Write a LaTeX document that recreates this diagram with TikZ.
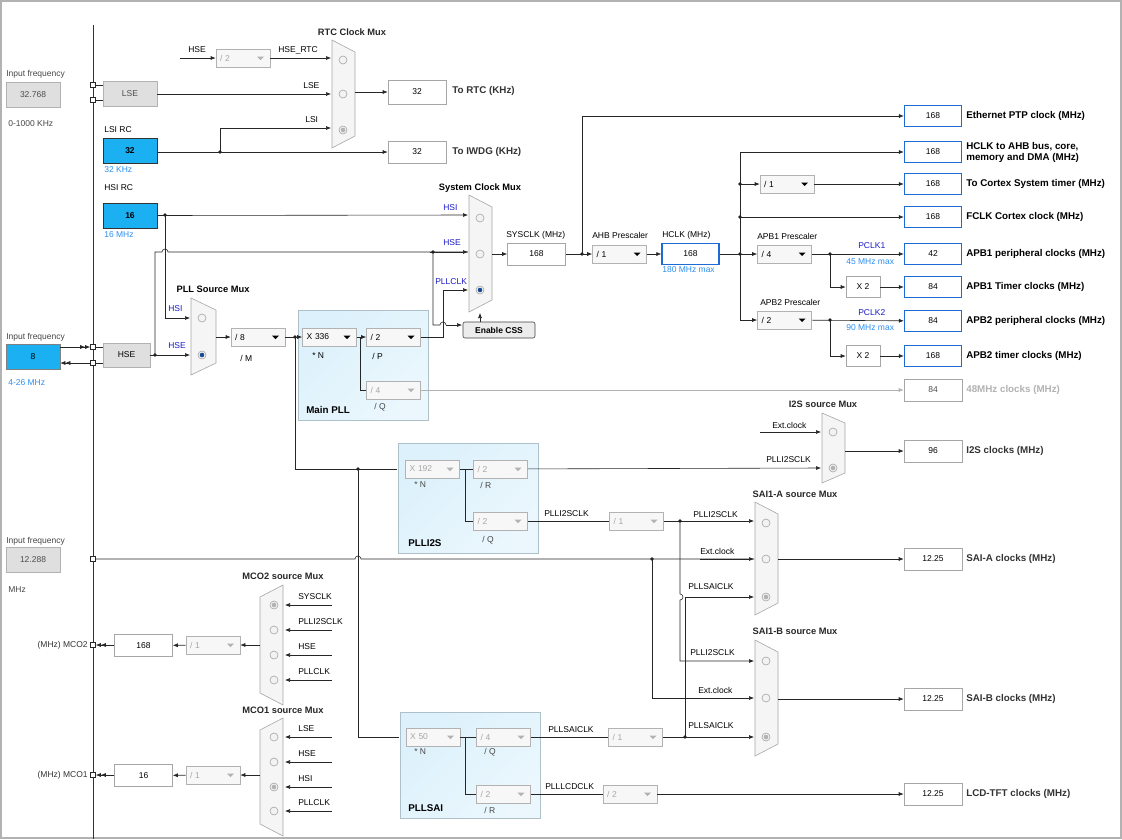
\documentclass[tikz,border=0pt]{standalone}
\usepackage{fontspec}
\setmainfont{Liberation Sans}
\usetikzlibrary{arrows.meta,calc}
\definecolor{selb}{HTML}{1AB0F2}
\definecolor{ob}{HTML}{1F6BD6}
\definecolor{bt}{HTML}{2B8EF0}
\definecolor{dk}{HTML}{1A1AC8}
\definecolor{pll}{HTML}{CDEBFA}
\newcommand\muxs[5]{\filldraw[draw=gray!70, fill=gray!8] (#1,#3) -- (#2,#3+#5) -- (#2,#4-#5) -- (#1,#4) -- cycle;}
\newcommand\rad[2]{\draw[gray!70, fill=gray!10] (#1,#2) circle (4pt);}
\newcommand\rsel[2]{\draw[gray!70, fill=gray!10] (#1,#2) circle (4pt);\fill[ob!70!black] (#1,#2) circle (2.3pt);}
\newcommand\rgsel[2]{\draw[gray!70, fill=gray!10] (#1,#2) circle (4pt);\fill[gray!60] (#1,#2) circle (2.3pt);}
\newcommand\dotp[2]{\fill[gray!25!black] (#1,#2) circle (1.8pt);}
\begin{document}
\begin{tikzpicture}[x=1pt,y=-1pt, font=\fontsize{8.5}{10}\selectfont,
 every path/.append style={line width=0.6pt},
 ln/.style={draw=gray!30!black},
 arr/.style={ln,-{Latex[length=5pt,width=4pt]}},
 darr/.style={ln,-{Latex[length=5pt,width=4pt]Latex[length=5pt,width=4pt]}},
 box/.style={draw=gray!70, fill=white, minimum width=58pt, minimum height=22pt, inner sep=0pt},
 obox/.style={draw=ob, line width=1.3pt, fill=white, minimum width=57pt, minimum height=21pt, inner sep=0pt},
 gbox/.style={draw=gray!60, fill=gray!25, text=gray!60!black, minimum width=54pt, minimum height=25pt, inner sep=0pt},
 sbox/.style={draw=gray!40!black, fill=selb, minimum width=54pt, minimum height=25pt, inner sep=0pt, font=\fontsize{8.5}{10}\selectfont\bfseries},
 dd/.style={draw=gray!60, fill=gray!6, minimum height=18pt, text width=46pt, inner xsep=4pt, inner ysep=0pt, align=left,
   path picture={\fill[black] ([xshift=-13pt,yshift=1.5pt]path picture bounding box.east) -- ++(7pt,0pt) -- ++(-3.5pt,-3.5pt) -- cycle;}},
 ddg/.style={dd, text=gray!70, path picture={\fill[gray!60] ([xshift=-13pt,yshift=1.5pt]path picture bounding box.east) -- ++(7pt,0pt) -- ++(-3.5pt,-3.5pt) -- cycle;}},
 lab/.style={anchor=west, inner sep=0pt},
 blab/.style={lab, font=\fontsize{9.8}{11}\selectfont\bfseries},
 glab/.style={lab, text=gray!55!black},
 blu/.style={lab, text=bt},
 dlu/.style={lab, text=dk},
 ttl/.style={font=\fontsize{9.3}{10.5}\selectfont\bfseries, text=gray!30!black},
 pllbox/.style={draw=pll!60!gray, top color=pll!70!white, bottom color=pll!40!white, shading angle=45},
 sq/.style={draw=gray!30!black, fill=white, minimum size=5pt, inner sep=0pt}]
\useasboundingbox (0,0) rectangle (1122,839);
\draw[gray!60, line width=1.5pt] (1,1) rectangle (1121,838);
\draw[gray!40!black] (93,25) -- (93,839);

% ---------------- left inputs
\node[glab] at (6,74) {Input frequency};
\node[gbox] (lsein) at (33,94.5) {32.768};
\node[glab] at (8,124) {0-1000 KHz};
\node[gbox] (lse) at (130,94) {LSE};
\node[sq] (sq1) at (93,85) {}; \node[sq] (sq2) at (93,100) {};
\draw[ln] (sq1) -- (sq1 -| lse.west); \draw[ln] (sq2) -- (sq2 -| lse.west);
\node[lab] at (104,130) {LSI RC};
\node[sbox] (lsi) at (130,150.5) {32};
\node[blu] at (104,170) {32 KHz};
\node[lab] at (104,188) {HSI RC};
\node[sbox] (hsi) at (130,215.5) {16};
\node[blu] at (104,235) {16 MHz};
\node[glab] at (6,337) {Input frequency};
\node[sbox, draw=gray, font=\fontsize{8.5}{10}\selectfont] (hsein) at (33,356.5) {8};
\node[blu] at (8,383) {4-26 MHz};
\node[gbox, text=black, minimum width=47pt, minimum height=24pt] (hse) at (126.5,355) {HSE};
\node[sq] (sq3) at (93,347) {}; \node[sq] (sq4) at (93,363) {};
\draw[darr] (hsein.east |- sq3) -- (sq3);
\draw[darr] (sq4) -- (hsein.east |- sq4);
\draw[ln] (sq3) -- (sq3 -| hse.west); \draw[ln] (sq4) -- (sq4 -| hse.west);
\node[glab] at (6,541) {Input frequency};
\node[gbox] (saiin) at (33,560) {12.288};
\node[glab] at (8,590) {MHz};

% ---------------- RTC mux
\node[ttl] at (352,32) {RTC Clock Mux};
\muxs{332}{355}{40}{148}{12}
\rad{343}{60}\rad{343}{94}\rgsel{343}{130}
\node[lab] at (188,50) {HSE};
\node[ddg] (rtcdiv) at (243,58) {/ 2};
\coordinate (hsertc) at (180,58);
\draw[arr] (hsertc) -- (rtcdiv);
\node[lab] at (278,50) {HSE\_RTC};
\draw[arr] (rtcdiv) -- (331,58);
\node[lab] at (303,86) {LSE};
\draw[arr] (lse) -- (331,94);
\node[lab] at (305,120) {LSI};
\dotp{220}{152}
\draw[arr] (220,152) -- (220,128) -- (331,128);
\node[box, minimum height=24pt] (rtc) at (417,92) {32};
\draw[arr] (355,92) -- (rtc);
\node[blab, gray!40!black] at (452,91) {To RTC (KHz)};
\node[box] (iwdg) at (417,152) {32};
\draw[arr] (lsi.east |- iwdg) -- (iwdg);
\node[blab, gray!40!black] at (452,152) {To IWDG (KHz)};

% ---------------- system clock mux
\node[ttl, text=black] at (480,188) {System Clock Mux};
\muxs{469}{492}{195}{312}{12}
\rad{480}{218}\rad{480}{254}\rsel{480}{290}
\dotp{165}{215}
\draw[arr] (hsi.east) -- (468,215);
\node[dlu] at (443,208) {HSI};
\dotp{155}{355}
\draw[ln] (155,355) -- (155,252) -- (162,252) arc[start angle=180,end angle=0,radius=3pt] -- (468,252);
\draw[arr] (430,252) -- (468,252);
\node[dlu] at (443,243) {HSE};
\dotp{433}{252}
\draw[arr] (165,215) -- (165,318) -- (190,318);
\node[dlu] at (168,309) {HSI};
\draw[arr] (hse.east) -- (190,355);
\node[dlu] at (168,346) {HSE};
% PLL source mux
\node[ttl, text=black] at (213,289) {PLL Source Mux};
\muxs{191}{216}{298}{375}{12}
\rad{202}{318}\rsel{202}{355}
\node[dd] (divm) at (258,337) {/ 8};
\draw[arr] (216,337) -- (divm);
\node[lab] at (240,358) {/ M};
% Main PLL
\filldraw[pllbox] (298,310) rectangle (428,420);
\node[blab] at (306,410) {Main PLL};
\node[dd] (pn) at (329.5,337) {X 336};
\node[lab] at (312,356) {* N};
\node[dd] (pp) at (393.5,337) {/ 2};
\node[lab] at (372,356) {/ P};
\node[ddg] (pq) at (393.5,390) {/ 4};
\node[glab] at (374,407) {/ Q};
\dotp{295}{337}
\draw[arr] (divm) -- (pn);
\draw[arr] (pn) -- (pp);
\draw[ln] (360,337) -- (360,390) -- (pq.west);
% PLLCLK & CSS
\node[draw=gray!50!black, fill=gray!15, rounded corners=2pt, minimum width=72pt, minimum height=16pt, inner sep=0pt, font=\fontsize{8.5}{10}\selectfont\bfseries] (css) at (499,330) {Enable CSS};
\draw[arr] (pp) -- (443,337) -- (443,290) -- (468,290);
\node[dlu] at (435,282) {PLLCLK};
\draw[ln] (433,252) -- (433,325) -- (440,325) arc[start angle=180,end angle=0,radius=3pt];
\draw[arr] (446,325) -- (462,325);
\draw[arr] (480,322) -- (480,313);
% sysclk
\node[lab] at (506,235) {SYSCLK (MHz)};
\node[box] (sys) at (536.5,254) {168};
\draw[arr] (492,254) -- (sys);
\node[lab] at (592,235) {AHB Prescaler};
\node[dd] (ahb) at (619.5,254) {/ 1};
\dotp{582}{254}
\draw[arr] (sys) -- (ahb);
\node[lab] at (662,235) {HCLK (MHz)};
\node[obox] (hclk) at (690.5,254) {168};
\node[blu] at (662,270) {180 MHz max};
\draw[arr] (ahb) -- (hclk);
% outputs
\foreach \n/\y/\v in {o1/116/168,o2/152/168,o3/184/168,o4/217/168,o5/254/42,o6/287/84,o7/321/84,o8/356/168}
  \node[obox] (\n) at (933,\y) {\v};
\node[blab] at (966,116) {Ethernet PTP clock (MHz)};
\node[blab, align=left] at (966,152) {HCLK to AHB bus, core,\\memory and DMA (MHz)};
\node[blab] at (966,184) {To Cortex System timer (MHz)};
\node[blab] at (966,217) {FCLK Cortex clock (MHz)};
\node[blab] at (966,254) {APB1 peripheral clocks (MHz)};
\node[blab] at (966,287) {APB1 Timer clocks (MHz)};
\node[blab] at (966,321) {APB2 peripheral clocks (MHz)};
\node[blab] at (966,356) {APB2 timer clocks (MHz)};
\draw[arr] (582,254) -- (582,116) -- (o1);
\dotp{740}{254}
\draw[ln] (hclk) -- (740,254);
\draw[ln] (740,152) -- (740,320);
\draw[arr] (740,152) -- (o2);
\dotp{740}{184}\dotp{740}{217}
\node[dd] (cdiv) at (787,184) {/ 1};
\draw[arr] (740,184) -- (cdiv); \draw[arr] (cdiv) -- (o3);
\draw[arr] (740,217) -- (o4);
\node[lab] at (757,236) {APB1 Prescaler};
\node[dd] (apb1) at (784.5,254) {/ 4};
\draw[arr] (740,254) -- (apb1); \draw[arr] (apb1) -- (o5);
\node[dlu] at (858,246) {PCLK1};
\node[blu] at (846,262) {45 MHz max};
\dotp{830}{254}
\node[box, minimum width=34pt, minimum height=21pt] (x1) at (863,287) {X 2};
\draw[arr] (830,254) -- (830,287) -- (x1); \draw[arr] (x1) -- (o6);
\node[lab] at (760,302) {APB2 Prescaler};
\node[dd] (apb2) at (784.5,320) {/ 2};
\draw[arr] (740,320) -- (apb2); \draw[arr] (apb2) -- (o7);
\node[dlu] at (858,313) {PCLK2};
\node[blu] at (846,328) {90 MHz max};
\dotp{830}{320}
\node[box, minimum width=34pt, minimum height=21pt] (x2) at (863,356) {X 2};
\draw[arr] (830,320) -- (830,356) -- (x2); \draw[arr] (x2) -- (o8);
\node[box, text=gray!60!black] (o48) at (933,390) {84};
\node[blab, text=gray!60] at (966,390) {48MHz clocks (MHz)};
\draw[arr, draw=gray!60] (pq) -- (o48);

% ---------------- PLLI2S
\draw[ln] (295,337) -- (295,469) -- (397,469);
\dotp{358}{469}
\filldraw[pllbox] (398,443) rectangle (538,553);
\node[blab] at (408,543) {PLLI2S};
\node[ddg] (in) at (432.5,469) {X 192};
\node[glab] at (414,485) {* N};
\node[ddg] (ir) at (500.5,469) {/ 2};
\node[glab] at (480,485) {/ R};
\node[ddg] (iq) at (500.5,521) {/ 2};
\node[glab] at (482,540) {/ Q};
\draw[ln] (in) -- (ir); \draw[ln] (465,469) -- (465,521) -- (iq);
\node[ttl] at (823,404) {I2S source Mux};
\muxs{822}{845}{413}{483}{10}
\rad{833}{432}\rgsel{833}{468}
\node[lab] at (772,425) {Ext.clock};
\draw[arr] (760,432) -- (821,432);
\node[lab] at (766,460) {PLLI2SCLK};
\draw[arr] (ir) -- (821,468);
\node[box] (oi2s) at (933,451) {96};
\draw[arr] (845,451) -- (oi2s);
\node[blab, text=gray!40!black] at (966,451) {I2S clocks (MHz)};
\node[lab] at (544,514) {PLLI2SCLK};
\node[ddg] (i2sd) at (636.5,521) {/ 1};
\draw[ln] (iq) -- (i2sd);
\node[lab] at (693,515) {PLLI2SCLK};
\draw[arr] (i2sd) -- (754,521);
% SAI-A
\node[ttl] at (795,494) {SAI1-A source Mux};
\muxs{755}{778}{502}{615}{12}
\rad{766}{523}\rad{766}{559}\rgsel{766}{597}
\node[sq] (sq5) at (93,559) {};
\draw[ln] (sq5) -- (355,559) arc[start angle=180,end angle=0,radius=3pt] -- (754,559);
\draw[arr] (700,559) -- (754,559);
\node[lab] at (700,551) {Ext.clock};
\node[lab] at (688,587) {PLLSAICLK};
\draw[arr] (685,737) -- (685,597) -- (754,597);
\node[box] (osaia) at (933,559) {12.25};
\draw[arr] (778,559) -- (osaia);
\node[blab, text=gray!40!black] at (966,559) {SAI-A clocks (MHz)};
% SAI-B
\node[ttl] at (795,631) {SAI1-B source Mux};
\muxs{755}{778}{640}{756}{12}
\rad{766}{661}\rad{766}{698}\rgsel{766}{737}
\dotp{680}{521}\dotp{652}{559}
\draw[arr] (680,521) -- (680,594) arc[start angle=90,end angle=-90,radius=3pt] -- (680,661) -- (754,661);
\node[lab] at (690,653) {PLLI2SCLK};
\draw[arr] (652,559) -- (652,698) -- (754,698);
\node[lab] at (698,690) {Ext.clock};
\node[lab] at (688,726) {PLLSAICLK};
\node[box] (osaib) at (933,699) {12.25};
\draw[arr] (778,699) -- (osaib);
\node[blab, text=gray!40!black] at (966,699) {SAI-B clocks (MHz)};
% PLLSAI
\draw[ln] (358,469) -- (358,737) -- (399,737);
\filldraw[pllbox] (400,712) rectangle (540,818);
\node[blab] at (408,808) {PLLSAI};
\node[ddg] (sn) at (433,737) {X 50};
\node[glab] at (414,752) {* N};
\node[ddg] (sqd) at (503.5,737) {/ 4};
\node[glab] at (484,752) {/ Q};
\node[ddg] (sr) at (503.5,794) {/ 2};
\node[glab] at (484,810) {/ R};
\draw[ln] (sn) -- (sqd); \draw[ln] (465,737) -- (465,794) -- (sr);
\node[lab] at (548,730) {PLLSAICLK};
\node[ddg] (said) at (635.5,737) {/ 1};
\draw[ln] (sqd) -- (said);
\dotp{685}{737}
\draw[arr] (said) -- (754,737);
\node[lab] at (545,787) {PLLLCDCLK};
\node[ddg] (lcdd) at (630,794) {/ 2};
\draw[ln] (sr) -- (lcdd);
\node[box] (olcd) at (933,794) {12.25};
\draw[arr] (lcdd) -- (olcd);
\node[blab, text=gray!40!black] at (966,794) {LCD-TFT clocks (MHz)};

% ---------------- MCO2
\node[ttl] at (283,576) {MCO2 source Mux};
\muxs{283}{260}{585}{705}{12}
\rgsel{274}{605}\rad{274}{630}\rad{274}{655}\rad{274}{680}
\foreach \y/\t in {605/SYSCLK,630/PLLI2SCLK,655/HSE,680/PLLCLK}{
  \draw[arr] (332,\y) -- (285,\y); \node[lab] at (298,\y-8) {\t};}
\node[ddg] (m2d) at (213,645) {/ 1};
\node[box] (m2) at (143.5,645.5) {168};
\node[sq] (m2s) at (93,645) {};
\draw[arr] (260,645) -- (m2d); \draw[arr] (m2d) -- (m2);
\draw[darr] (m2.west |- m2s) -- (m2s);
\node[anchor=east, inner sep=0pt, text=gray!40!black] at (88,645) {(MHz) MCO2};
% MCO1
\node[ttl] at (283,710) {MCO1 source Mux};
\muxs{283}{260}{718}{836}{12}
\rad{274}{737}\rad{274}{762}\rgsel{274}{787}\rad{274}{811}
\foreach \y/\t in {737/LSE,762/HSE,787/HSI,811/PLLCLK}{
  \draw[arr] (332,\y) -- (285,\y); \node[lab] at (298,\y-8) {\t};}
\node[ddg] (m1d) at (213,775) {/ 1};
\node[box] (m1) at (143.5,775.5) {16};
\node[sq] (m1s) at (93,775) {};
\draw[arr] (260,775) -- (m1d); \draw[arr] (m1d) -- (m1);
\draw[darr] (m1.west |- m1s) -- (m1s);
\node[anchor=east, inner sep=0pt, text=gray!40!black] at (88,775) {(MHz) MCO1};
\end{tikzpicture}
\end{document}
